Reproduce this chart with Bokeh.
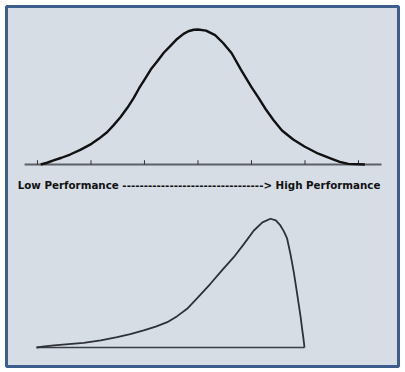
from bokeh.plotting import figure
from bokeh.models import Range1d, Label
from bokeh.embed import file_html
from bokeh.resources import INLINE

# --- data -------------------------------------------------------------
# Top: normal performance distribution (x in standard deviations, y relative frequency %)
bell_x = [-2.94, -2.82, -2.70, -2.55, -2.39, -2.20, -1.99, -1.85, -1.70, -1.58, -1.45, -1.32,
          -1.20, -1.10, -0.99, -0.88, -0.76, -0.64, -0.51, -0.39, -0.27, -0.18, -0.08,
          0.0, 0.15, 0.32, 0.47, 0.63, 0.80, 1.0, 1.13, 1.26, 1.41, 1.57, 1.78, 1.99,
          2.25, 2.50, 2.65, 2.81, 3.12]
bell_y = [0, 1.3, 3.0, 5.0, 7.4, 10.8, 15.3, 19.2, 23.9, 29.0, 35.0, 42.0,
          49.4, 56.5, 63.5, 70.5, 76.5, 82.8, 88.1, 93.0, 96.8, 98.7, 99.8,
          100, 99.2, 95.8, 90.0, 82.4, 70.5, 57.3, 49.5, 41.3, 33.0, 25.2, 18.5, 13.3,
          8.0, 4.2, 2.0, 0.5, 0]
tick_x = [-3, -2, -1, 0, 1, 2, 3]
bell_axis = [-3.24, 3.43]

# Bottom: skewed performance distribution (x in % of scale, y relative frequency %)
skew_x = [0, 3, 6.5, 12, 17.6, 24, 30.1, 35, 40.0, 44.5, 48.8, 52.5, 56.2, 60.5, 64.9,
          69.2, 73.6, 77.5, 81.1, 84.3, 87.3, 89.3, 91.0, 92.3, 93.5, 94.8, 96.0, 97.0,
          97.9, 98.6, 99.1, 99.6, 100]
skew_y = [0, 0.8, 1.6, 2.6, 3.6, 5.5, 8.0, 10.3, 13.2, 16.2, 19.6, 24.3, 30.0, 39.5, 49.4,
          59.8, 70.0, 80.5, 90.7, 97.0, 99.8, 98.5, 94.6, 90.0, 84.5, 72.0, 58.4, 45.0,
          32.6, 23.0, 14.7, 7.0, 0]
skew_axis = [0, 100]

label_text = "Low Performance ---------------------------------> High Performance"

# --- figure -----------------------------------------------------------
BG = "#d6dde5"
p = figure(width=400, height=368,
           x_range=Range1d(-3.579, 3.748), y_range=Range1d(-149.63, 117.04),
           output_backend="svg", toolbar_location=None,
           min_border_left=6, min_border_top=6, min_border_right=2, min_border_bottom=2,
           background_fill_color=BG, border_fill_color="white")
p.axis.visible = False
p.grid.visible = False
p.outline_line_color = "#3d5d8f"
p.outline_line_width = 3

p.extra_x_ranges = {"b": Range1d(-11.19, 135.07)}
p.extra_y_ranges = {"b": Range1d(-14.73, 264.34)}

# top baseline and ticks
p.line(bell_axis, [0, 0], line_color="#5c6168", line_width=2)
p.segment(x0=tick_x, y0=[0] * len(tick_x), x1=tick_x, y1=[3.2] * len(tick_x),
          line_color="#333333", line_width=1)
p.line(bell_x, bell_y, line_color="#111111", line_width=2.4, line_join="round")

# bottom baseline and curve
p.line(skew_axis, [0, 0], line_color="#3a3d42", line_width=1.6,
       x_range_name="b", y_range_name="b")
p.line(skew_x, skew_y, line_color="#2e3136", line_width=1.8, line_join="round",
       x_range_name="b", y_range_name="b")

p.add_layout(Label(x=0.02, y=-15.5, text=label_text, text_align="center",
                   text_baseline="middle", text_font="DejaVu Sans",
                   text_font_style="bold", text_font_size="10.3px",
                   text_color="#111111"))

open("out.html", "w").write(file_html(p, INLINE))
